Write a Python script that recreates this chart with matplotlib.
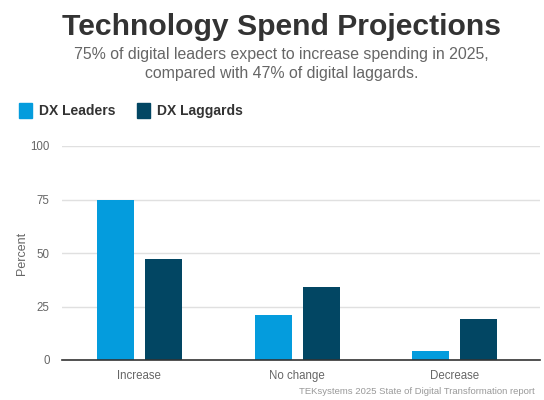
import numpy as np
import matplotlib.pyplot as plt
from matplotlib.patches import Rectangle

categories = ["Increase", "No change", "Decrease"]
leaders = [75, 21, 4]
laggards = [47, 34, 19]
series_names = ["DX Leaders", "DX Laggards"]
yticks = [0, 25, 50, 75, 100]

LEADER_COLOR = "#049cdd"
LAGGARD_COLOR = "#024663"

plt.rcParams["font.family"] = ["Liberation Sans", "DejaVu Sans"]

fig = plt.figure(figsize=(5.44, 4.0), dpi=100)
ax = fig.add_axes([62 / 544, 40 / 400, 478 / 544, 214 / 400])

x = np.arange(len(categories))
w = 0.235
ax.bar(x - 0.152, leaders, w, color=LEADER_COLOR, zorder=3)
ax.bar(x + 0.152, laggards, w, color=LAGGARD_COLOR, zorder=3)

ax.set_xlim(-0.491, 2.54)
ax.set_ylim(0, 100)
ax.set_yticks(yticks)
ax.set_xticks(x)
ax.set_xticklabels(categories)
ax.tick_params(axis="both", length=0, labelsize=8.3, colors="#666666", pad=7)
ax.tick_params(axis="y", pad=9)
ax.grid(axis="y", color="#e0e0e0", linewidth=1, zorder=0)
for side in ["top", "right", "left"]:
    ax.spines[side].set_visible(False)
ax.spines["bottom"].set_color("#333333")
ax.spines["bottom"].set_linewidth(1.2)
ax.spines["bottom"].set_zorder(4)
ax.set_ylabel("Percent", fontsize=9, color="#666666", labelpad=1.5)

fig.text(0.518, 0.933, "Technology Spend Projections", ha="center", va="center",
         fontsize=21.7, fontweight="bold", color="#333333")
fig.text(0.518, 0.84, "75% of digital leaders expect to increase spending in 2025,\ncompared with 47% of digital laggards.",
         ha="center", va="center", fontsize=11.4, color="#666666", linespacing=1.33)

# legend drawn by hand so it sits flush left like the original
for i, (name, col) in enumerate(zip(series_names, [LEADER_COLOR, LAGGARD_COLOR])):
    x0 = [19, 137][i]
    fig.patches.append(Rectangle((x0 / 544, 1 - 118 / 400), 13 / 544, 15 / 400,
                                 transform=fig.transFigure, color=col))
    fig.text((x0 + 20) / 544, 1 - 111 / 400, name, ha="left", va="center",
             fontsize=10, fontweight="bold", color="#333333")

fig.text(0.983, 1 - 391 / 400, "TEKsystems 2025 State of Digital Transformation report",
         ha="right", va="center", fontsize=6.8, color="#999999")

fig.savefig("out.png", dpi=100)
